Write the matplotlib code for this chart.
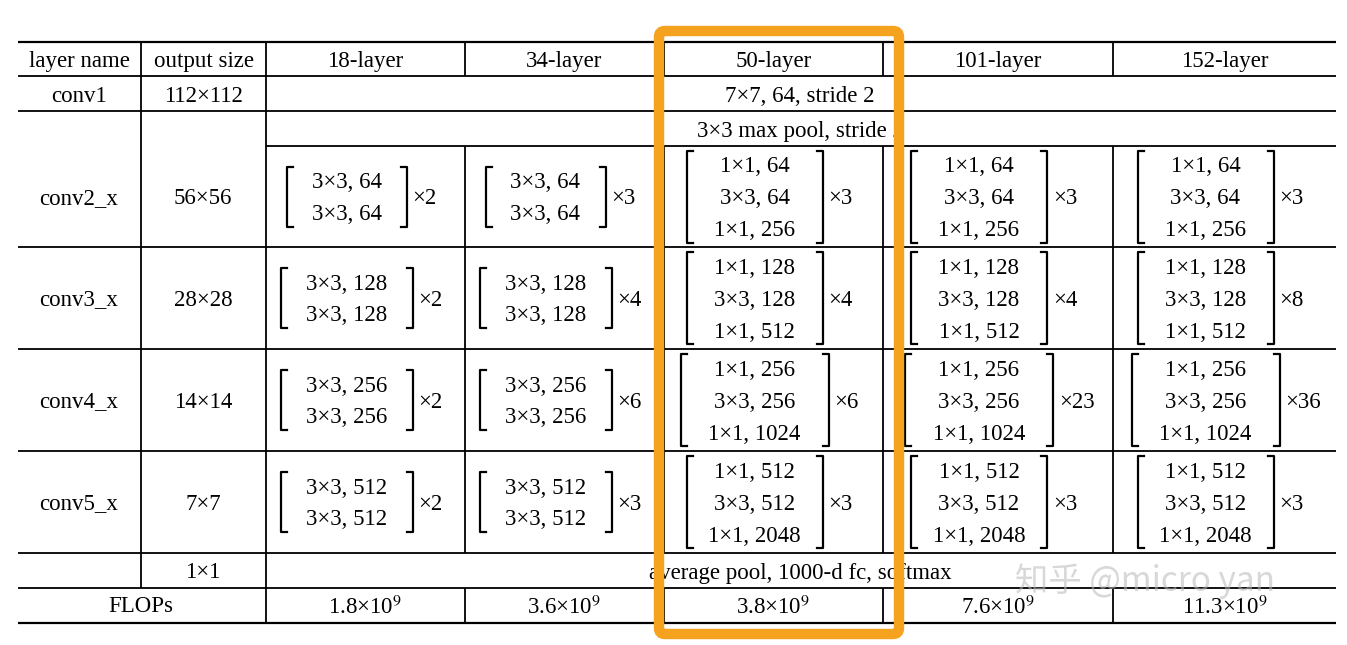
import matplotlib
matplotlib.use("Agg")
import matplotlib.pyplot as plt
from matplotlib.patches import FancyBboxPatch

plt.rcParams['mathtext.fontset'] = 'stix'
SERIF = 'Liberation Serif'

headers = ["layer name", "output size", "18-layer", "34-layer", "50-layer", "101-layer", "152-layer"]
stage_names = ["conv2_x", "conv3_x", "conv4_x", "conv5_x"]
out_sizes = ["56×56", "28×28", "14×14", "7×7"]
conv1_size = "112×112"
conv1_text = "7×7, 64, stride 2"
pool_text = "3×3 max pool, stride 2"
final_size = "1×1"
final_text = "average pool, 1000-d fc, softmax"
flops = [r"1.8×10$^{9}$", r"3.6×10$^{9}$", r"3.8×10$^{9}$", r"7.6×10$^{9}$", r"11.3×10$^{9}$"]

basic = [["3×3, 64", "3×3, 64"], ["3×3, 128", "3×3, 128"],
         ["3×3, 256", "3×3, 256"], ["3×3, 512", "3×3, 512"]]
bottle = [["1×1, 64", "3×3, 64", "1×1, 256"], ["1×1, 128", "3×3, 128", "1×1, 512"],
          ["1×1, 256", "3×3, 256", "1×1, 1024"], ["1×1, 512", "3×3, 512", "1×1, 2048"]]
repeats = {"18": [2, 2, 2, 2], "34": [3, 4, 6, 3], "50": [3, 4, 6, 3],
           "101": [3, 4, 23, 3], "152": [3, 8, 36, 3]}
col_keys = ["18", "34", "50", "101", "152"]

W, H = 1347, 645
fig = plt.figure(figsize=(W / 100, H / 100), dpi=100)
ax = fig.add_axes([0, 0, 1, 1])
ax.set_xlim(0, W); ax.set_ylim(H, 0); ax.axis('off')

xs = [18, 141, 266, 465, 664, 883, 1113, 1336]
rows = [42, 76, 111, 146, 247, 349, 451, 553, 588, 623]
lw = 1.3
fs = 16.5
DY = 2

def hl(y, x0=18, x1=1336, w=lw):
    ax.plot([x0, x1], [y, y], color='black', lw=w, solid_capstyle='butt')
def vl(x, y0, y1):
    ax.plot([x, x], [y0, y1], color='black', lw=lw, solid_capstyle='butt')
def txt(x, y, s, size=fs, ha='center'):
    ax.text(x, y + DY, s, ha=ha, va='center', fontsize=size, family=SERIF)

for y in rows:
    if y == 146:
        hl(y, 266)
    else:
        hl(y, w=1.6 if y in (42, 623) else lw)
for x in xs[1:-1]:
    vl(x, 42, 76)
    vl(x, 146, 553)
    if x != 141:
        vl(x, 588, 623)
for x in (141, 266):
    vl(x, 76, 146); vl(x, 553, 588)

for i, h in enumerate(headers):
    txt((xs[i] + xs[i + 1]) / 2, 59, h)
txt(79, 94, "conv1"); txt(203, 94, conv1_size)
txt(800, 94, conv1_text); txt(800, 129, pool_text)
txt(203, 571, final_size); txt(800, 571, final_text)
txt(141, 605, "FLOPs")
for j, f in enumerate(flops):
    txt((xs[j + 2] + xs[j + 3]) / 2, 605, f)

def bracket(x, y0, y1, side):
    d = 6 if side == 'l' else -6
    ax.plot([x + d, x, x, x + d], [y0, y0, y1, y1], color='black', lw=1.6)

for r in range(4):
    y0, y1 = rows[3 + r], rows[4 + r]
    yc = (y0 + y1) / 2
    txt(79, yc, stage_names[r]); txt(203, yc, out_sizes[r])
    for j, k in enumerate(col_keys):
        cx = (xs[j + 2] + xs[j + 3]) / 2
        lines = basic[r] if j < 2 else bottle[r]
        n = len(lines)
        sp = 31 if n == 2 else 32
        tx = cx - 19
        for li, s in enumerate(lines):
            txt(tx, yc + (li - (n - 1) / 2) * sp, s)
        half = 60 if j < 2 else (74 if r == 2 else 68)
        if j < 2 and r > 0:
            half = 66
        bh = 30 if n == 2 else 46
        bracket(tx - half, yc - bh, yc + bh, 'l')
        bracket(tx + half, yc - bh, yc + bh, 'r')
        txt(tx + half + 6, yc, "×%d" % repeats[k][r], ha='left')

ax.add_patch(FancyBboxPatch((659, 31), 240, 603, boxstyle="round,pad=0,rounding_size=6",
                            fill=False, ec='#F5A21F', lw=7.5, zorder=5))
ax.text(1145, 581, "知乎 @micro yan", ha='center', va='center', fontsize=24,
        family=['Noto Sans CJK SC', 'DejaVu Sans'], color='#b8b8b8', alpha=0.55, zorder=6)

fig.savefig("out.png", dpi=100)
